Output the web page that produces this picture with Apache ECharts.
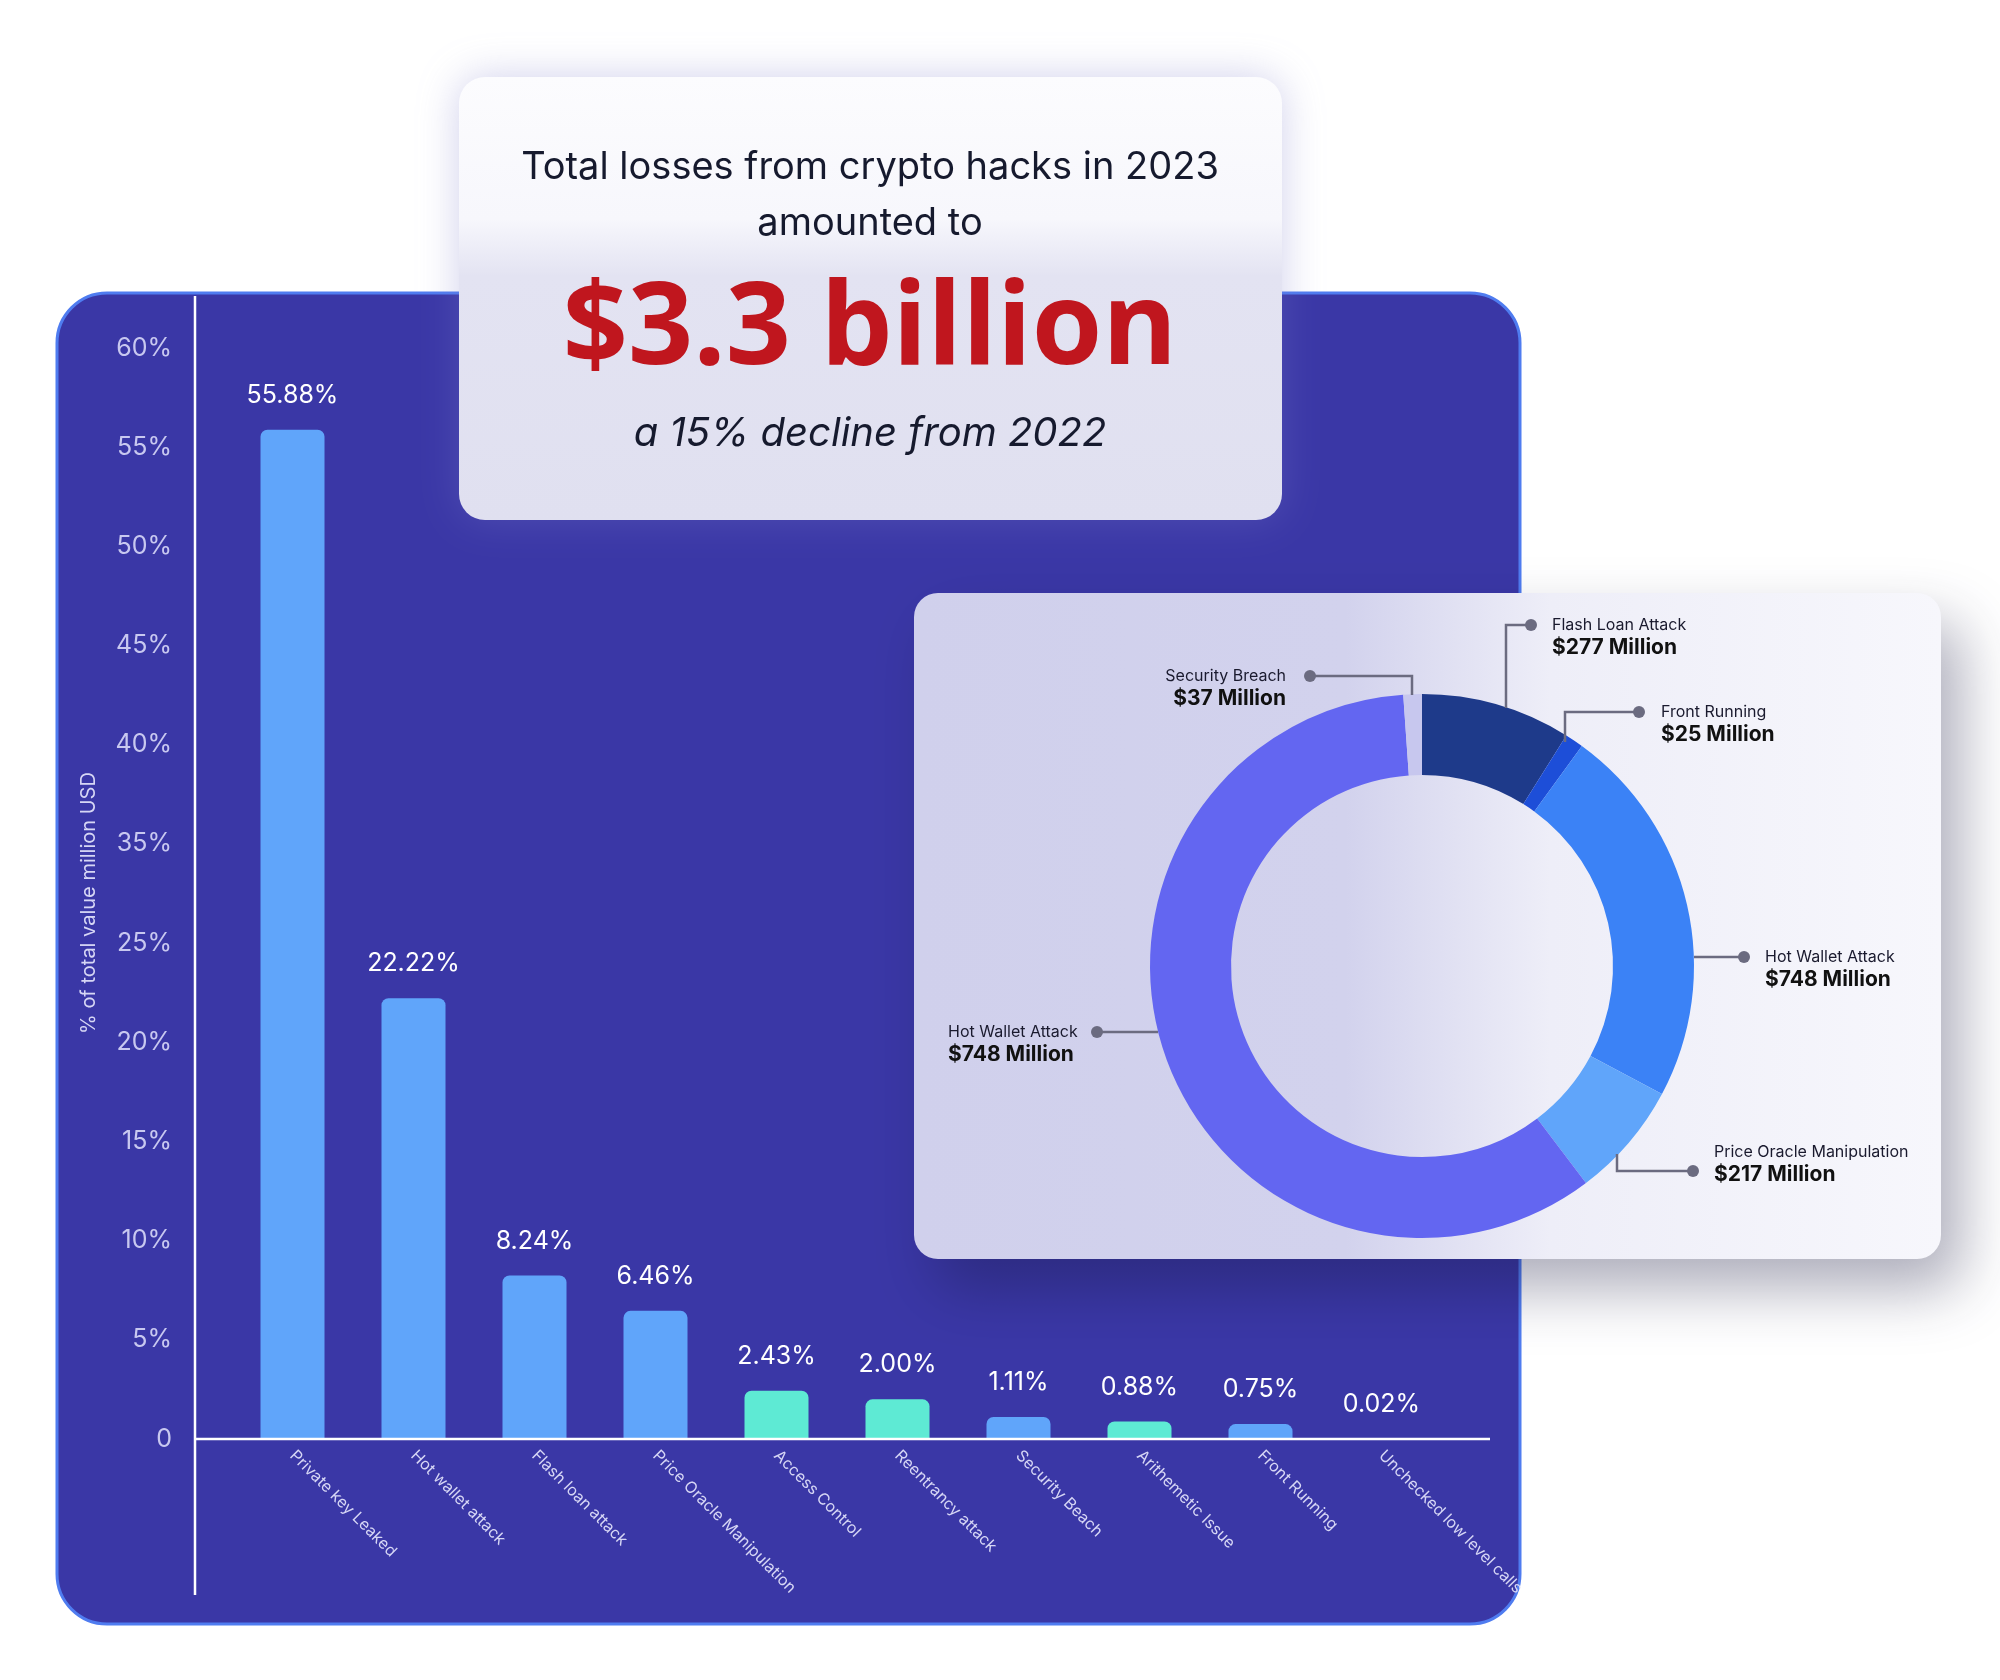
<!DOCTYPE html>
<html><head><meta charset="utf-8">
<script src="https://cdn.jsdelivr.net/npm/echarts@6/dist/echarts.min.js"></script>
<style>html,body{margin:0;background:#fff}#c{width:2000px;height:1680px}</style>
</head><body><div id="c"></div>
<script>
const categories = ['Private key Leaked','Hot wallet attack','Flash loan attack','Price Oracle Manipulation','Access Control','Reentrancy attack','Security Beach','Arithemetic Issue','Front Running','Unchecked low level calls'];
const shareValues = [55.88, 22.22, 8.24, 6.46, 2.43, 2.00, 1.11, 0.88, 0.75, 0.02];
const barColors = ['#60a5fa','#60a5fa','#60a5fa','#60a5fa','#5eead4','#5eead4','#60a5fa','#5eead4','#60a5fa','#60a5fa'];
const yTickLabels = ['0','5%','10%','15%','20%','25%','35%','40%','45%','50%','55%','60%'];
const pieNames = ['Flash Loan Attack','Front Running','Hot Wallet Attack','Price Oracle Manipulation','Hot Wallet Attack','Security Breach'];
const pieShares = [8.9, 1.1, 22.8, 6.9, 59.2, 1.1];
const pieColors = ['#1e3a8a','#1d4ed8','#3b82f6','#60a5fa','#6366f1','#c7c7ee'];
const pieAmounts = ['$277 Million','$25 Million','$748 Million','$217 Million','$748 Million','$37 Million'];

// axis labels skip "30%": positions above 25 display value+5
const toAxis = v => v <= 25 ? v : v - 5;

const chart = echarts.init(document.getElementById('c'));
const F = 'Inter, "Noto Sans", sans-serif';
const lineC = '#6b6b80';
function callout(nameIdx, tx, ty, align, dot, pts) {
  return [
    {type:'polyline', z:20, shape:{points:pts}, style:{stroke:lineC, lineWidth:2.5, fill:null}},
    {type:'circle', z:20, shape:{cx:dot[0], cy:dot[1], r:6}, style:{fill:lineC}},
    {type:'text', z:20, x:tx, y:ty, style:{text:pieNames[nameIdx], font:'16px '+F, fill:'#1a1a2e', align:align, verticalAlign:'middle'}},
    {type:'text', z:20, x:tx, y:ty+23, style:{text:pieAmounts[nameIdx], font:'bold 21px '+F, fill:'#111', align:align, verticalAlign:'middle'}}
  ];
}
const graphic = [
  {type:'rect', z:-10, shape:{x:57,y:293,width:1463,height:1331,r:50}, style:{fill:'#3a37a6', stroke:'#4f7cf0', lineWidth:3}},
  {type:'line', z:5, shape:{x1:195,y1:296,x2:195,y2:1595}, style:{stroke:'#ffffff', lineWidth:2.5}},
  {type:'line', z:5, shape:{x1:195,y1:1439,x2:1490,y2:1439}, style:{stroke:'#ffffff', lineWidth:2.5}},
  {type:'text', z:5, x:89, y:903, rotation:Math.PI/2, style:{text:'% of total value million USD', font:'20px '+F, fill:'#d6d6f5', align:'center', verticalAlign:'middle'}},
  {type:'rect', z:8, shape:{x:459,y:77,width:823,height:443,r:26}, style:{fill:{type:'linear',x:0,y:0,x2:0,y2:1,colorStops:[{offset:0,color:'#fcfcfe'},{offset:0.32,color:'#f7f7fc'},{offset:0.45,color:'#e3e3f2'},{offset:1,color:'#e0e0f0'}]}, shadowBlur:40, shadowColor:'rgba(120,120,200,0.35)'}},
  {type:'text', z:9, x:870, y:168, style:{text:'Total losses from crypto hacks in 2023', font:'38px '+F, fill:'#161a2e', align:'center', verticalAlign:'middle'}},
  {type:'text', z:9, x:870, y:224, style:{text:'amounted to', font:'38px '+F, fill:'#161a2e', align:'center', verticalAlign:'middle'}},
  {type:'text', z:9, x:870, y:332, style:{text:'$3.3 billion', font:'bold 114px "Open Sans", '+F, fill:'#c0161e', align:'center', verticalAlign:'middle'}},
  {type:'text', z:9, x:870, y:434, style:{text:'a 15% decline from 2022', font:'italic 40px '+F, fill:'#161a2e', align:'center', verticalAlign:'middle'}},
  {type:'rect', z:1, shape:{x:914,y:593,width:1027,height:666,r:24}, style:{fill:{type:'linear',x:0,y:0,x2:1,y2:0,colorStops:[{offset:0,color:'#d0d0ec'},{offset:0.42,color:'#d2d2ed'},{offset:0.62,color:'#eeeef8'},{offset:1,color:'#f7f7fc'}]}, shadowBlur:60, shadowOffsetX:20, shadowOffsetY:30, shadowColor:'rgba(20,20,60,0.35)'}},
  ...callout(0, 1552, 625, 'left', [1531,625], [[1531,625],[1506,625],[1506,708]]),
  ...callout(1, 1661, 712, 'left', [1639,712], [[1639,712],[1565,712],[1565,742]]),
  ...callout(5, 1286, 676, 'right', [1310,676], [[1310,676],[1412,676],[1412,695]]),
  ...callout(2, 1765, 957, 'left', [1744,957], [[1744,957],[1694,957]]),
  ...callout(3, 1714, 1152, 'left', [1693,1171], [[1693,1171],[1617,1171],[1617,1154]]),
  ...callout(4, 948, 1032, 'left', [1097,1032], [[1097,1032],[1158,1032]])
];
chart.setOption({
  animation:false,
  graphic: graphic,
  grid:{left:232, right:558, top:348, bottom:241, containLabel:false},
  xAxis:{type:'category', data:categories, axisLine:{show:false}, axisTick:{show:false},
    axisLabel:{rotate:-45, color:'#d6d6f5', fontSize:16, fontFamily:F, margin:14, interval:0}},
  yAxis:{type:'value', min:0, max:55, interval:5, splitLine:{show:false}, axisLine:{show:false},
    axisLabel:{color:'#c8c8f0', fontSize:25, fontFamily:F, margin:60, formatter:(v)=>yTickLabels[v/5] ?? ''}},
  series:[
    {type:'bar', z:3, barWidth:64, data:shareValues.map((v,i)=>({value:toAxis(v), itemStyle:{color:barColors[i]}})),
     itemStyle:{borderRadius:[7,7,0,0]},
     label:{show:true, position:'top', distance:22, color:'#ffffff', fontSize:25, fontFamily:F, formatter:p=>shareValues[p.dataIndex].toFixed(2)+'%'}},
    {type:'pie', z:10, center:[1422,966], radius:[191,272], startAngle:90, clockwise:true, label:{show:false}, labelLine:{show:false},
     data:pieShares.map((v,i)=>({value:v, name:pieNames[i], itemStyle:{color:pieColors[i]}}))}
  ]
});
</script></body></html>
